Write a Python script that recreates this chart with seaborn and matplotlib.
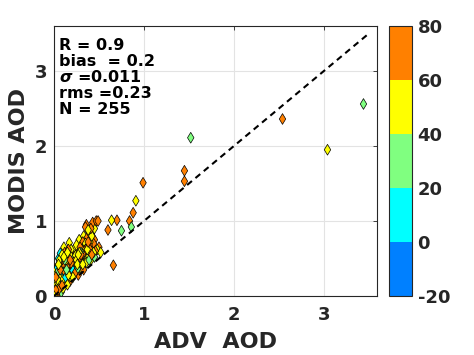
#!/usr/bin/env python3
# Scatter of MODIS AOD against ADV AOD, coloured by a discrete value,
# with a 1:1 dashed line and stats box (MATLAB-like look).
import matplotlib
matplotlib.use("Agg")
import matplotlib.pyplot as plt
from matplotlib.colors import ListedColormap, BoundaryNorm
import pandas as pd
import seaborn as sns

# ---- data ----------------------------------------------------------------
orange_x = [0.01, 0.02, 0.03, 0.04, 0.05, 0.06, 0.07, 0.08, 0.09, 0.10, 0.11, 0.12,
            0.13, 0.14, 0.15, 0.16, 0.17, 0.18, 0.19, 0.20, 0.21, 0.22, 0.23, 0.24,
            0.25, 0.26, 0.28, 0.29, 0.30, 0.31, 0.32, 0.33, 0.34, 0.35, 0.36, 0.37,
            0.38, 0.39, 0.40, 0.42, 0.43, 0.44, 0.46, 0.47, 0.49, 0.50, 0.60, 0.66,
            0.70, 0.84, 0.88, 0.99, 1.45, 1.45, 2.54, 0.02, 0.04, 0.06, 0.08, 0.03,
            0.05, 0.12, 0.27, 0.18, 0.33, 0.36, 0.41, 0.45, 0.07, 0.11, 0.15, 0.19,
            0.23, 0.27, 0.31, 0.35, 0.39, 0.09, 0.14, 0.21, 0.26, 0.32, 0.38, 0.04,
            0.10, 0.17, 0.24, 0.29]
orange_y = [0.03, 0.08, 0.15, 0.05, 0.22, 0.12, 0.35, 0.18, 0.28, 0.45, 0.15, 0.32,
            0.52, 0.22, 0.40, 0.62, 0.30, 0.48, 0.25, 0.55, 0.38, 0.45, 0.30, 0.60,
            0.35, 0.50, 0.42, 0.65, 0.55, 0.40, 0.72, 0.48, 0.60, 0.92, 0.55, 0.78,
            0.50, 0.85, 0.62, 0.55, 0.98, 0.70, 0.60, 1.00, 1.00, 0.65, 0.88, 0.41,
            1.01, 1.00, 1.11, 1.51, 1.53, 1.67, 2.36, 0.25, 0.40, 0.02, 0.50, 0.01,
            0.08, 0.58, 0.28, 0.20, 0.35, 0.95, 0.90, 0.75, 0.22, 0.38, 0.30, 0.44,
            0.48, 0.38, 0.50, 0.62, 0.68, 0.14, 0.56, 0.50, 0.58, 0.56, 0.72, 0.33,
            0.28, 0.55, 0.45, 0.52]

yellow_x = [0.00, 0.01, 0.02, 0.03, 0.04, 0.05, 0.06, 0.07, 0.08, 0.09, 0.10, 0.11,
            0.12, 0.13, 0.14, 0.15, 0.16, 0.17, 0.18, 0.19, 0.20, 0.21, 0.22, 0.23,
            0.24, 0.25, 0.26, 0.27, 0.28, 0.29, 0.30, 0.31, 0.32, 0.33, 0.34, 0.35,
            0.36, 0.37, 0.38, 0.39, 0.40, 0.41, 0.42, 0.44, 0.45, 0.48, 0.52, 0.64,
            0.91, 3.04, 0.01, 0.03, 0.06, 0.10, 0.15, 0.43, 0.02, 0.05, 0.08, 0.11,
            0.13, 0.16, 0.19, 0.22, 0.25, 0.28, 0.31, 0.34, 0.37, 0.40, 0.04, 0.07,
            0.12, 0.18, 0.24]
yellow_y = [0.00, 0.12, 0.02, 0.30, 0.18, 0.42, 0.26, 0.08, 0.38, 0.55, 0.22, 0.65,
            0.40, 0.18, 0.48, 0.58, 0.28, 0.71, 0.36, 0.52, 0.44, 0.25, 0.62, 0.40,
            0.32, 0.68, 0.42, 0.55, 0.75, 0.38, 0.48, 0.62, 0.42, 0.80, 0.50, 0.70,
            0.45, 0.62, 0.88, 0.55, 0.72, 0.48, 0.80, 0.58, 0.90, 0.62, 0.58, 1.01,
            1.27, 1.95, 0.20, 0.06, 0.48, 0.10, 0.15, 0.78, 0.35, 0.04, 0.26, 0.52,
            0.34, 0.42, 0.62, 0.36, 0.48, 0.58, 0.70, 0.66, 0.52, 0.58, 0.22, 0.44,
            0.20, 0.26, 0.54]

green_x = [0.02, 0.04, 0.06, 0.09, 0.12, 0.14, 0.17, 0.20, 0.23, 0.26, 0.30, 0.34,
           0.37, 0.41, 0.45, 0.75, 0.86, 1.52, 3.44, 0.08, 0.28, 0.05, 0.11, 0.19,
           0.25, 0.33, 0.39]
green_y = [0.10, 0.28, 0.16, 0.20, 0.48, 0.35, 0.42, 0.30, 0.52, 0.36, 0.58, 0.44,
           0.68, 0.62, 0.52, 0.87, 0.92, 2.11, 2.56, 0.05, 0.48, 0.34, 0.26, 0.46,
           0.40, 0.56, 0.48]

cyan_x = [0.02, 0.03, 0.05, 0.07, 0.10, 0.13, 0.05, 0.08, 0.16, 0.04, 0.21]
cyan_y = [0.05, 0.20, 0.15, 0.57, 0.32, 0.25, 0.50, 0.10, 0.50, 0.38, 0.34]

# colour value of each group (one class of the colour bar)
orange_val = 70
yellow_val = 50
green_val = 30
cyan_val = 10

class_bounds = [-20, 0, 20, 40, 60, 80]
class_colors = ["#0080FF", "#00FFFF", "#80FF80", "#FFFF00", "#FF8000"]
one_to_one = [0, 3.5]

stats_text = "R = 0.9\nbias  = 0.2\n$\\sigma$ =0.011\nrms =0.23\nN = 255"

# ---- build table ---------------------------------------------------------
frames = []
for xs, ys, v in [(cyan_x, cyan_y, cyan_val), (green_x, green_y, green_val),
                  (yellow_x, yellow_y, yellow_val), (orange_x, orange_y, orange_val)]:
    frames.append(pd.DataFrame({"adv": xs, "modis": ys, "val": [v] * len(xs)}))
df = pd.concat(frames, ignore_index=True)
# mix the groups so no single colour sits on top everywhere
df = df.iloc[sorted(range(len(df)), key=lambda i: (i * 37) % len(df))]

sns.set_style("white")
plt.rcParams["font.family"] = ["DejaVu Sans"]
plt.rcParams["font.weight"] = "bold"
plt.rcParams["axes.unicode_minus"] = False
INK = "#262626"

cmap = ListedColormap(class_colors)
norm = BoundaryNorm(class_bounds, cmap.N)

fig = plt.figure(figsize=(4.74, 3.55), dpi=100)
ax = fig.add_axes([0.1139, 0.1662, 0.6814, 0.7606])
cax = fig.add_axes([0.8207, 0.1662, 0.0485, 0.7606])

ax.grid(True, color="#e3e3e3", linewidth=0.8)
ax.set_axisbelow(True)

sns.scatterplot(data=df, x="adv", y="modis", hue="val",
                hue_norm=norm, ax=ax, legend=False, marker="d", s=30,
                edgecolor="black", linewidth=0.5, zorder=3)
# seaborn maps hue with its own palette; recolour by the discrete class map
coll = ax.collections[-1]
coll.set_facecolor(cmap(norm(df["val"].to_numpy())))

ax.plot(one_to_one, one_to_one, color="black", linestyle=(0, (3, 2.2)),
        linewidth=1.5, zorder=4)

ax.set_xlim(0, 3.59)
ax.set_ylim(0, 3.6)
ax.set_xticks([0, 1, 2, 3])
ax.set_yticks([0, 1, 2, 3])
ax.tick_params(direction="in", length=3, top=True, right=True, labelsize=13,
               colors=INK, width=0.6)
ax.tick_params(axis="x", pad=7)
ax.tick_params(axis="y", pad=5)
for lab in ax.get_xticklabels() + ax.get_yticklabels():
    lab.set_fontweight("bold")
for sp in ax.spines.values():
    sp.set_color(INK)
    sp.set_linewidth(0.8)

ax.set_xlabel("ADV  AOD", fontsize=16, fontweight="bold", color=INK, labelpad=6)
ax.set_ylabel("MODIS AOD", fontsize=16, fontweight="bold", color=INK, labelpad=4)

ax.text(0.015, 0.955, stats_text, transform=ax.transAxes, ha="left", va="top",
        fontsize=11.5, fontweight="bold", color="black", linespacing=1.05, zorder=5)

sm = plt.cm.ScalarMappable(cmap=cmap, norm=norm)
cb = fig.colorbar(sm, cax=cax, ticks=class_bounds)
cb.outline.set_edgecolor(INK)
cb.outline.set_linewidth(0.8)
cax.tick_params(length=0, labelsize=13, colors=INK, pad=4)
for lab in cax.get_yticklabels():
    lab.set_fontweight("bold")

fig.savefig("out.png", dpi=100)
